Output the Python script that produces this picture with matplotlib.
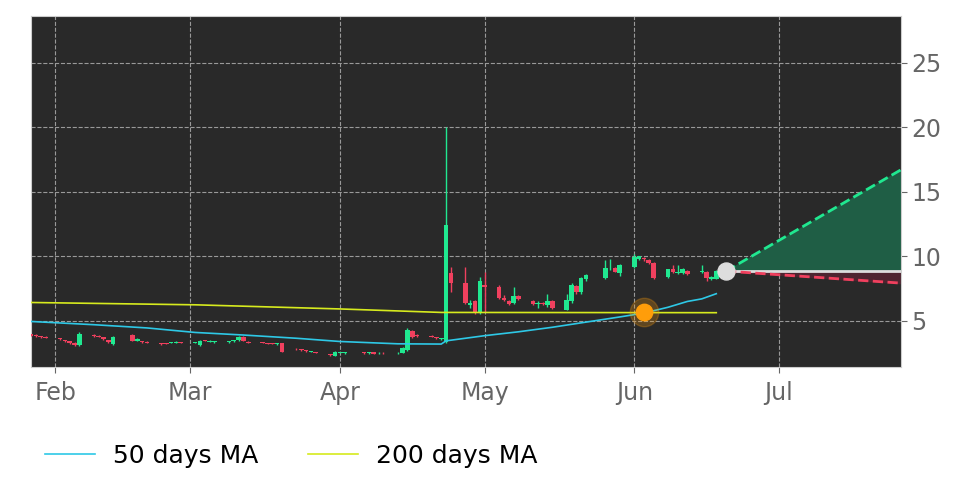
import matplotlib
matplotlib.use("Agg")
import matplotlib.pyplot as plt
import matplotlib.dates as mdates
import numpy as np
import pandas as pd

# trading days 2026-01-27 .. 2026-06-18 (US market holidays removed)
start_day = "2026-01-27"
end_day = "2026-06-18"
holidays = ["2026-02-16", "2026-04-03", "2026-05-25"]

opens = [
    3.95, 3.9, 3.8, 3.75,
    3.65, 3.5, 3.4, 3.3, 3.1,
    3.9, 3.85, 3.72, 3.5, 3.2,
    3.9, 3.45, 3.42, 3.38,
    3.25, 3.28, 3.27, 3.32, 3.34,
    3.28, 3.1, 3.48, 3.38, 3.33,
    3.33, 3.42, 3.48, 3.75, 3.38,
    3.35, 3.3, 3.3, 3.18, 3.25,
    2.85, 2.8, 2.7, 2.58, 2.6,
    2.42, 2.3, 2.52, 2.48,
    2.53, 2.48, 2.56, 2.47, 2.52,
    2.47, 2.52, 2.75, 4.2, 3.92,
    3.85, 3.75, 3.58, 3.35, 8.7,
    7.9, 6.2, 6.5, 5.6, 7.8,
    7.6, 6.8, 6.5, 6.4, 6.9,
    6.5, 6.28, 6.35, 6.2, 6.5,
    5.85, 6.5, 7.7, 7.2, 8.2,
    8.3, 8.98, 9.1, 8.7,
    9.2, 9.75, 9.85, 9.7, 9.5,
    8.4, 9.0, 8.68, 8.7, 8.85,
    8.78, 8.8, 8.2, 8.25,
]
closes = [
    3.85, 3.8, 3.72, 3.68,
    3.6, 3.42, 3.28, 3.12, 4.0,
    3.82, 3.78, 3.6, 3.35, 3.75,
    3.45, 3.6, 3.33, 3.32,
    3.18, 3.24, 3.32, 3.38, 3.29,
    3.32, 3.45, 3.44, 3.42, 3.37,
    3.38, 3.48, 3.75, 3.45, 3.28,
    3.28, 3.22, 3.22, 3.24, 2.62,
    2.78, 2.72, 2.64, 2.63, 2.53,
    2.32, 2.6, 2.58, 2.53,
    2.48, 2.53, 2.46, 2.52, 2.47,
    2.53, 2.9, 4.3, 3.78, 3.82,
    3.78, 3.66, 3.64, 12.45, 7.9,
    6.4, 6.4, 5.6, 8.1, 7.6,
    6.8, 6.6, 6.3, 6.9, 6.7,
    6.3, 6.33, 6.28, 6.5, 6.0,
    6.6, 7.8, 7.2, 8.3, 8.55,
    9.1, 9.03, 8.8, 9.35,
    9.95, 10.0, 9.75, 9.5, 8.3,
    9.0, 8.75, 8.72, 9.0, 8.6,
    8.82, 8.3, 8.4, 8.85,
]
highs = [
    4.0, 3.95, 3.85, 3.8,
    3.7, 3.55, 3.45, 3.35, 4.1,
    3.95, 3.9, 3.75, 3.55, 3.8,
    3.95, 3.7, 3.45, 3.4,
    3.28, 3.32, 3.35, 3.45, 3.38,
    3.35, 3.5, 3.52, 3.48, 3.42,
    3.4, 3.5, 3.8, 3.8, 3.4,
    3.38, 3.32, 3.32, 3.28, 3.28,
    2.88, 2.82, 2.72, 2.68, 2.62,
    2.45, 2.65, 2.62, 2.56,
    2.56, 2.56, 2.6, 2.55, 2.55,
    2.56, 2.95, 4.45, 4.3, 3.95,
    3.88, 3.78, 3.7, 20.0, 9.2,
    9.2, 6.6, 6.6, 8.4, 8.8,
    7.8, 7.0, 6.6, 7.6, 7.0,
    6.6, 6.5, 6.45, 7.1, 6.6,
    7.1, 7.9, 7.8, 8.4, 8.6,
    9.7, 9.75, 9.15, 9.4,
    10.2, 10.05, 9.95, 9.75, 9.55,
    9.05, 9.35, 9.3, 9.1, 8.9,
    9.3, 8.85, 8.45, 8.9,
]
lows = [
    3.8, 3.75, 3.68, 3.65,
    3.55, 3.38, 3.22, 3.05, 3.05,
    3.78, 3.72, 3.55, 3.25, 3.15,
    3.4, 3.4, 3.3, 3.28,
    3.15, 3.2, 3.25, 3.3, 3.25,
    3.25, 3.05, 3.4, 3.35, 3.3,
    3.3, 3.38, 3.45, 3.4, 3.25,
    3.25, 3.2, 3.2, 3.15, 2.6,
    2.75, 2.7, 2.6, 2.55, 2.5,
    2.28, 2.28, 2.5, 2.45,
    2.45, 2.45, 2.43, 2.45, 2.44,
    2.44, 2.5, 2.7, 3.7, 3.78,
    3.75, 3.62, 3.55, 3.3, 7.2,
    6.3, 6.0, 5.5, 5.5, 5.7,
    6.7, 6.5, 6.2, 6.3, 6.6,
    6.2, 6.0, 6.2, 6.1, 5.9,
    5.8, 6.4, 7.1, 7.1, 8.1,
    8.25, 8.9, 8.75, 8.45,
    9.1, 9.7, 9.6, 9.4, 8.2,
    8.35, 8.7, 8.6, 8.65, 8.55,
    8.7, 8.1, 8.15, 8.2,
]

ma50_dates = ["2026-01-27", "2026-02-09", "2026-02-20", "2026-03-02", "2026-03-12",
              "2026-03-23", "2026-04-01", "2026-04-13", "2026-04-22", "2026-04-23",
              "2026-05-01", "2026-05-08", "2026-05-15", "2026-05-22", "2026-05-29",
              "2026-06-03", "2026-06-08", "2026-06-12", "2026-06-15", "2026-06-18"]
ma50 = [4.95, 4.7, 4.45, 4.1, 3.9, 3.65, 3.4, 3.22, 3.2, 3.45,
        3.85, 4.15, 4.5, 4.9, 5.3, 5.6, 6.05, 6.5, 6.7, 7.1]

ma200_dates = ["2026-01-27", "2026-03-02", "2026-04-01", "2026-04-22", "2026-06-18"]
ma200 = [6.42, 6.24, 5.92, 5.65, 5.63]

cross_date = "2026-06-03"
cross_value = 5.65

forecast_start = "2026-06-20 00:00"
forecast_end = "2026-07-26 07:00"
last_price = 8.85
forecast_high = 16.7
forecast_low = 7.92

UP = "#20e890"
DOWN = "#f0405e"

days = pd.bdate_range(start_day, end_day)
days = days[~days.isin(pd.to_datetime(holidays))]
x = mdates.date2num(days)
o = np.array(opens)
c = np.array(closes)
h = np.array(highs)
l = np.array(lows)
colors = np.where(c >= o, UP, DOWN)

fig = plt.figure(figsize=(9.72, 4.86), dpi=100)
ax = fig.add_axes([0.032, 0.245, 0.895, 0.722])
ax.set_facecolor("#292929")

ax.vlines(x, l, h, colors=colors, linewidth=1, zorder=3)
body = np.maximum(np.abs(c - o), 0.07)
ax.bar(x, body, bottom=np.minimum(o, c), width=0.95, color=colors, zorder=4)

ax.plot(mdates.date2num(pd.to_datetime(ma50_dates)), ma50, color="#2ec8e6",
        linewidth=1.2, label="50 days MA", zorder=5)
ax.plot(mdates.date2num(pd.to_datetime(ma200_dates)), ma200, color="#d6ea1e",
        linewidth=1.2, label="200 days MA", zorder=5)

cx = mdates.date2num(pd.Timestamp(cross_date))
ax.scatter([cx], [cross_value], s=420, color="#ff9d0a", alpha=0.25, zorder=6)
ax.scatter([cx], [cross_value], s=140, color="#ff9d0a", zorder=7)

fx = mdates.date2num([pd.Timestamp(forecast_start), pd.Timestamp(forecast_end)])
ax.fill_between(fx, [last_price, last_price], [last_price, forecast_high],
                color="#1f5e45", zorder=2)
ax.fill_between(fx, [last_price, last_price], [last_price, forecast_low],
                color="#4e2430", zorder=2)
ax.plot(fx, [last_price, last_price], color="#dddddd", linewidth=2, zorder=3)
ax.plot(fx, [last_price, forecast_high], color=UP, linestyle="--",
        linewidth=2, zorder=4)
ax.plot(fx, [last_price, forecast_low], color=DOWN, linestyle="--",
        linewidth=2, zorder=4)
ax.scatter([fx[0]], [last_price], s=150, color="#dddddd", zorder=8)

ax.set_xlim(mdates.date2num(pd.Timestamp(start_day)), fx[1])
ax.set_ylim(1.43, 28.6)
ax.set_yticks([5, 10, 15, 20, 25])
ax.xaxis.set_major_locator(mdates.MonthLocator())
ax.xaxis.set_major_formatter(mdates.DateFormatter("%b"))
ax.yaxis.tick_right()
ax.tick_params(colors="#666666", labelsize=17, length=4)
ax.tick_params(axis="x", pad=6)
ax.grid(True, color="#999999", linestyle="--", linewidth=0.8)
for sp in ax.spines.values():
    sp.set_color("#cccccc")

ax.legend(loc="upper left", bbox_to_anchor=(-0.01, -0.155), ncol=2, frameon=False,
          fontsize=18, handlelength=2.0, handletextpad=0.72, columnspacing=2.0)

fig.savefig("out.png", dpi=100, facecolor="white")
